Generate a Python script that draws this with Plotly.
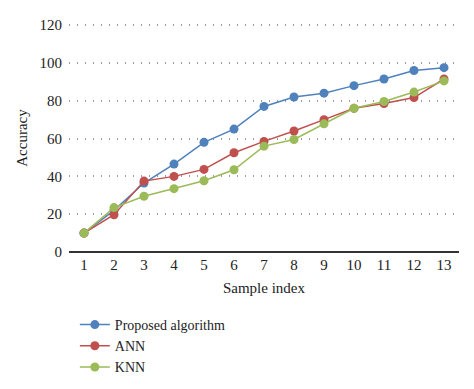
import plotly.graph_objects as go

samples = list(range(1, 14))
proposed = [10, 22, 36.5, 46.5, 58, 65, 77, 82, 84, 88, 91.5, 96, 97.5]
ann = [10, 19.7, 37.5, 40, 43.7, 52.5, 58.5, 64, 70, 76, 78.5, 81.7, 91.5]
knn = [10, 23.5, 29.5, 33.5, 37.7, 43.5, 56, 59.5, 67.8, 76, 79.6, 84.6, 90.5]

series = [
    ("Proposed algorithm", proposed, "#4f81bd"),
    ("ANN", ann, "#c0504d"),
    ("KNN", knn, "#9bbb59"),
]

font = "Liberation Serif, DejaVu Serif, serif"

fig = go.Figure()
for name, vals, col in series:
    fig.add_trace(go.Scatter(
        x=samples, y=vals, name=name, mode="lines+markers",
        line=dict(color=col, width=1.5),
        marker=dict(color=col, size=9),
    ))

fig.update_layout(
    width=474, height=389,
    margin=dict(l=61, r=23, t=16, b=145, autoexpand=False),
    paper_bgcolor="white", plot_bgcolor="white",
    font=dict(family=font, size=14, color="#222222"),
    showlegend=True,
    legend=dict(x=0.015, y=-0.25, xanchor="left", yanchor="top",
                font=dict(family=font, size=14, color="#222222"),
                itemwidth=30, tracegroupgap=0, bgcolor="rgba(0,0,0,0)"),
    xaxis=dict(
        range=[0.5, 13.5], tickmode="array", tickvals=samples,
        ticktext=[str(s) for s in samples],
        showgrid=False, zeroline=False, automargin=False,
        showline=False, ticks="", ticklabelstandoff=2,
        tickfont=dict(family=font, size=15, color="#222222"),
        title=dict(text="Sample index", font=dict(family=font, size=15, color="#222222"), standoff=10),
    ),
    yaxis=dict(
        range=[0, 120.6], tickvals=[0, 20, 40, 60, 80, 100, 120],
        showgrid=True, gridcolor="#9a9a9a", griddash="1px,7px", gridwidth=1.5,
        zeroline=True, zerolinecolor="#333333", zerolinewidth=1.5,
        showline=False, ticks="", ticklabelstandoff=6, automargin=False,
        tickfont=dict(family=font, size=15, color="#222222"),
        title=dict(text="Accuracy", font=dict(family=font, size=15, color="#222222"), standoff=8),
    ),
)

fig.write_html("out.html")
